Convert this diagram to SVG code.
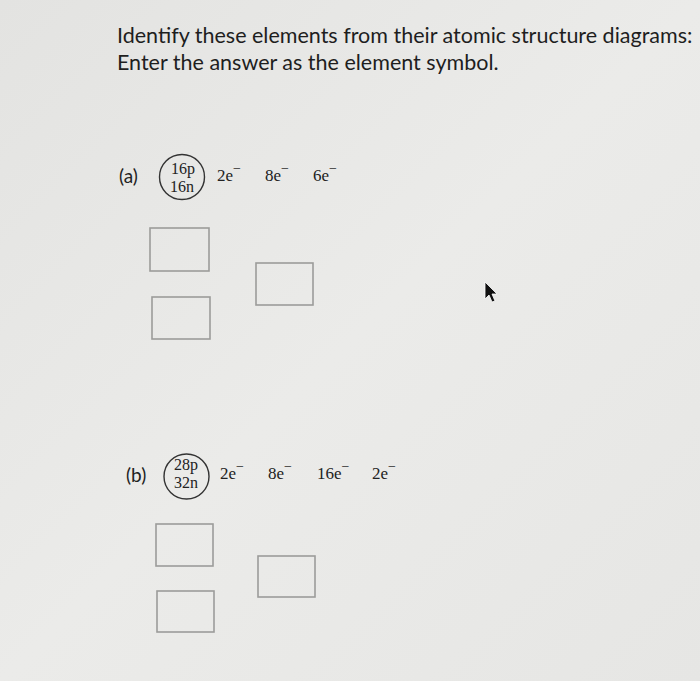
<svg xmlns="http://www.w3.org/2000/svg" width="700" height="681" viewBox="0 0 700 681">
<defs>
<linearGradient id="bg" x1="0" y1="0" x2="1" y2="1">
<stop offset="0" stop-color="#e3e3e1"/>
<stop offset="0.5" stop-color="#ebebe9"/>
<stop offset="1" stop-color="#e6e6e4"/>
</linearGradient>
</defs>
<style>
.title{font-family:Lato,"Open Sans","Liberation Sans",sans-serif;font-size:21.5px;fill:#1e1e1e}
.lbl{font-family:Lato,"Open Sans","Liberation Sans",sans-serif;font-size:19px;fill:#222}
.nuc{font-family:"Liberation Serif","DejaVu Serif",serif;font-size:16px;fill:#222}
.el{font-family:"Liberation Serif","DejaVu Serif",serif;font-size:17px;fill:#222}
.ring{fill:none;stroke:#333;stroke-width:1.4}
.box{fill:none;stroke:#9c9c9a;stroke-width:1.6}
</style>
<rect width="700" height="681" fill="url(#bg)"/>
<g id="title">
<text class="title" x="117" y="43">Identify these elements from their atomic structure diagrams:</text>
<text class="title" x="117" y="70">Enter the answer as the element symbol.</text>
</g>
<g id="atom-a">
<text class="lbl" x="119" y="183">(a)</text>
<circle class="ring" cx="182" cy="177" r="22.5"/>
<text class="nuc" x="171" y="174">16p</text>
<text class="nuc" x="170" y="192">16n</text>
<text class="el" x="217" y="181">2e<tspan font-size="14" dy="-8">−</tspan></text>
<text class="el" x="265" y="181">8e<tspan font-size="14" dy="-8">−</tspan></text>
<text class="el" x="313" y="181">6e<tspan font-size="14" dy="-8">−</tspan></text>
</g>
<g id="answers-a">
<rect class="box" x="150" y="228" width="59" height="43"/>
<rect class="box" x="152" y="297" width="58" height="42"/>
<rect class="box" x="256" y="263" width="57" height="42"/>
</g>
<g id="atom-b">
<text class="lbl" x="126" y="482">(b)</text>
<circle class="ring" cx="186.5" cy="476.5" r="22.5"/>
<text class="nuc" x="174" y="470">28p</text>
<text class="nuc" x="174" y="488">32n</text>
<text class="el" x="220" y="479">2e<tspan font-size="14" dy="-8">−</tspan></text>
<text class="el" x="268" y="479">8e<tspan font-size="14" dy="-8">−</tspan></text>
<text class="el" x="317" y="479">16e<tspan font-size="14" dy="-8">−</tspan></text>
<text class="el" x="372" y="479">2e<tspan font-size="14" dy="-8">−</tspan></text>
</g>
<g id="answers-b">
<rect class="box" x="156" y="524" width="57" height="42"/>
<rect class="box" x="157" y="591" width="57" height="41"/>
<rect class="box" x="258" y="556" width="57" height="41"/>
</g>
<g id="cursor">
<polygon points="485,282 485,299 489,295 492,302 495,301 492,294 497,294" fill="#111" stroke="#fff" stroke-width="0.8"/>
</g>
</svg>
